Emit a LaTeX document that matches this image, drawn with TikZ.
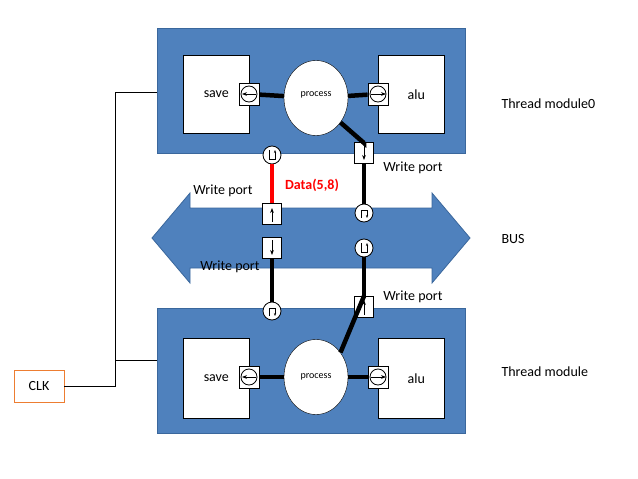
\documentclass[tikz,border=0pt]{standalone}
\usepackage{fontspec}
\setmainfont{Carlito}
\usetikzlibrary{arrows.meta,shapes.geometric}
\definecolor{mblue}{HTML}{4F81BD}
\definecolor{mborder}{HTML}{3A679C}
\definecolor{clkc}{HTML}{ED7D31}
\begin{document}
\begin{tikzpicture}[x=1pt,y=-1pt,
  module/.style={draw=mborder,fill=mblue,line width=0.8pt},
  unit/.style={draw=black,fill=white,line width=0.6pt},
  proc/.style={draw=black,fill=white,ellipse,minimum width=64pt,minimum height=75pt,inner sep=0pt,font=\fontsize{10}{11}\selectfont},
  sq/.style={draw=black,fill=white,line width=0.8pt,minimum width=19pt,minimum height=21pt,inner sep=0pt},
  circ/.style={draw=black,fill=white,circle,minimum size=18pt,inner sep=0pt,line width=0.8pt},
  fat/.style={line width=4.5pt},
  lbl/.style={font=\fontsize{14}{16}\selectfont},
  ar/.style={-{Stealth[length=5pt]},line width=1pt}]
\useasboundingbox (0,0) rectangle (638,479);
% bus arrow
\draw[draw=mborder,fill=mblue,line width=0.8pt] (152,238) -- (190,193) -- (190,208) -- (432,208) -- (432,193) -- (470,238) -- (432,283) -- (432,268) -- (190,268) -- (190,283) -- cycle;
% modules
\draw[module] (157,28) rectangle (465,153);
\draw[module] (157,308) rectangle (465,433);
% top units
\node[unit,minimum width=66pt,minimum height=78pt,anchor=north west,lbl] (save0) at (183,55) {save};
\node[unit,minimum width=66pt,minimum height=78pt,anchor=north west,lbl] (alu0) at (378,55) {\hspace*{10pt}alu};
\node[proc] (p0) at (316,98) {\raisebox{8pt}{process}};
\node[sq,minimum width=20pt,minimum height=22pt] (sp0) at (249,94) {};
\node[circ,minimum size=16pt] (sc0) at (249,94) {};
\node[sq,minimum width=20pt,minimum height=22pt] (ap0) at (378,94) {};
\node[circ,minimum size=16pt] (ac0) at (378,94) {};
\draw[ar] (256,94) -- (242,94);
\draw[ar] (371,94) -- (386,94);
\draw[fat] (p0) -- (sp0);
\draw[fat] (p0) -- (ap0);
% bottom units
\node[unit,minimum width=66pt,minimum height=80pt,anchor=north west,lbl] (save1) at (183,338) {save};
\node[unit,minimum width=66pt,minimum height=80pt,anchor=north west,lbl] (alu1) at (378,338) {\hspace*{10pt}alu};
\node[proc] (p1) at (316,377) {\raisebox{-2pt}{process}};
\node[sq,minimum width=20pt,minimum height=22pt] (sp1) at (249,377) {};
\node[circ,minimum size=16pt] (sc1) at (249,377) {};
\node[sq,minimum width=20pt,minimum height=22pt] (ap1) at (378,377) {};
\node[circ,minimum size=16pt] (ac1) at (378,377) {};
\draw[ar] (256,377) -- (242,377);
\draw[ar] (371,377) -- (386,377);
\draw[fat] (p1) -- (sp1);
\draw[fat] (p1) -- (ap1);
% ports and links
\node[circ] (c1) at (272,155) {};
\node[sq] (s1) at (272,214) {};
\node[sq] (s2) at (364,153) {};
\node[circ] (c2) at (364,213) {};
\node[sq] (s3) at (272,248) {};
\node[circ] (c3) at (272,311) {};
\node[circ] (c4) at (364,248) {};
\node[sq] (s4) at (364,307) {};
\draw[red,fat] (c1) -- (s1);
\draw[fat] (s2) -- (c2);
\draw[fat] (s3) -- (c3);
\draw[fat] (c4) -- (s4);
\draw[fat] (p0.-45) -- (364,143) -- (s2.north);
\draw[fat] (p1.45) -- (s4.north);
\draw[ar] (272,222) -- (272,208);
\draw[ar] (272,240) -- (272,255);
\draw[ar] (364,146) -- (364,160);
\draw[ar] (364,315) -- (364,300);
% bent arrow glyphs in circles
\foreach \c in {c1,c4} \draw[line width=1pt,-{Stealth[length=3pt]}] ([shift={(-3,-5)}]\c.center) -- ([shift={(-3,4)}]\c.center) -- ([shift={(3,4)}]\c.center) -- ([shift={(3,-5)}]\c.center);
\foreach \c in {c2,c3} \draw[line width=1pt,-{Stealth[length=3pt]}] ([shift={(-3,5)}]\c.center) -- ([shift={(-3,-3)}]\c.center) -- ([shift={(3,-3)}]\c.center) -- ([shift={(3,5)}]\c.center);
% labels
\node[lbl,text=red,font=\fontsize{14}{16}\selectfont\bfseries] (data) at (312,185) {Data(5,8)};
\node[lbl] (w1) at (223,191) {Write port};
\node[lbl] (w2) at (413,168) {Write port};
\node[lbl] (w3) at (230,267) {Write port};
\node[lbl] (w4) at (413,297) {Write port};
\node[lbl,anchor=west] (t0) at (498,104) {Thread module0};
\node[lbl,anchor=west] (tb) at (498,239) {BUS};
\node[lbl,anchor=west] (t1) at (498,372) {Thread module};
% clock
\node[draw=clkc,line width=0.8pt,minimum width=50pt,minimum height=32pt,lbl] (clk) at (39,386) {CLK};
\coordinate (j) at (115,386);
\draw[line width=0.6pt] (clk.east) -- (j) -- (115,92) -- (157,92);
\draw[line width=0.6pt] (115,360) -- (157,360);
\end{tikzpicture}
\end{document}
